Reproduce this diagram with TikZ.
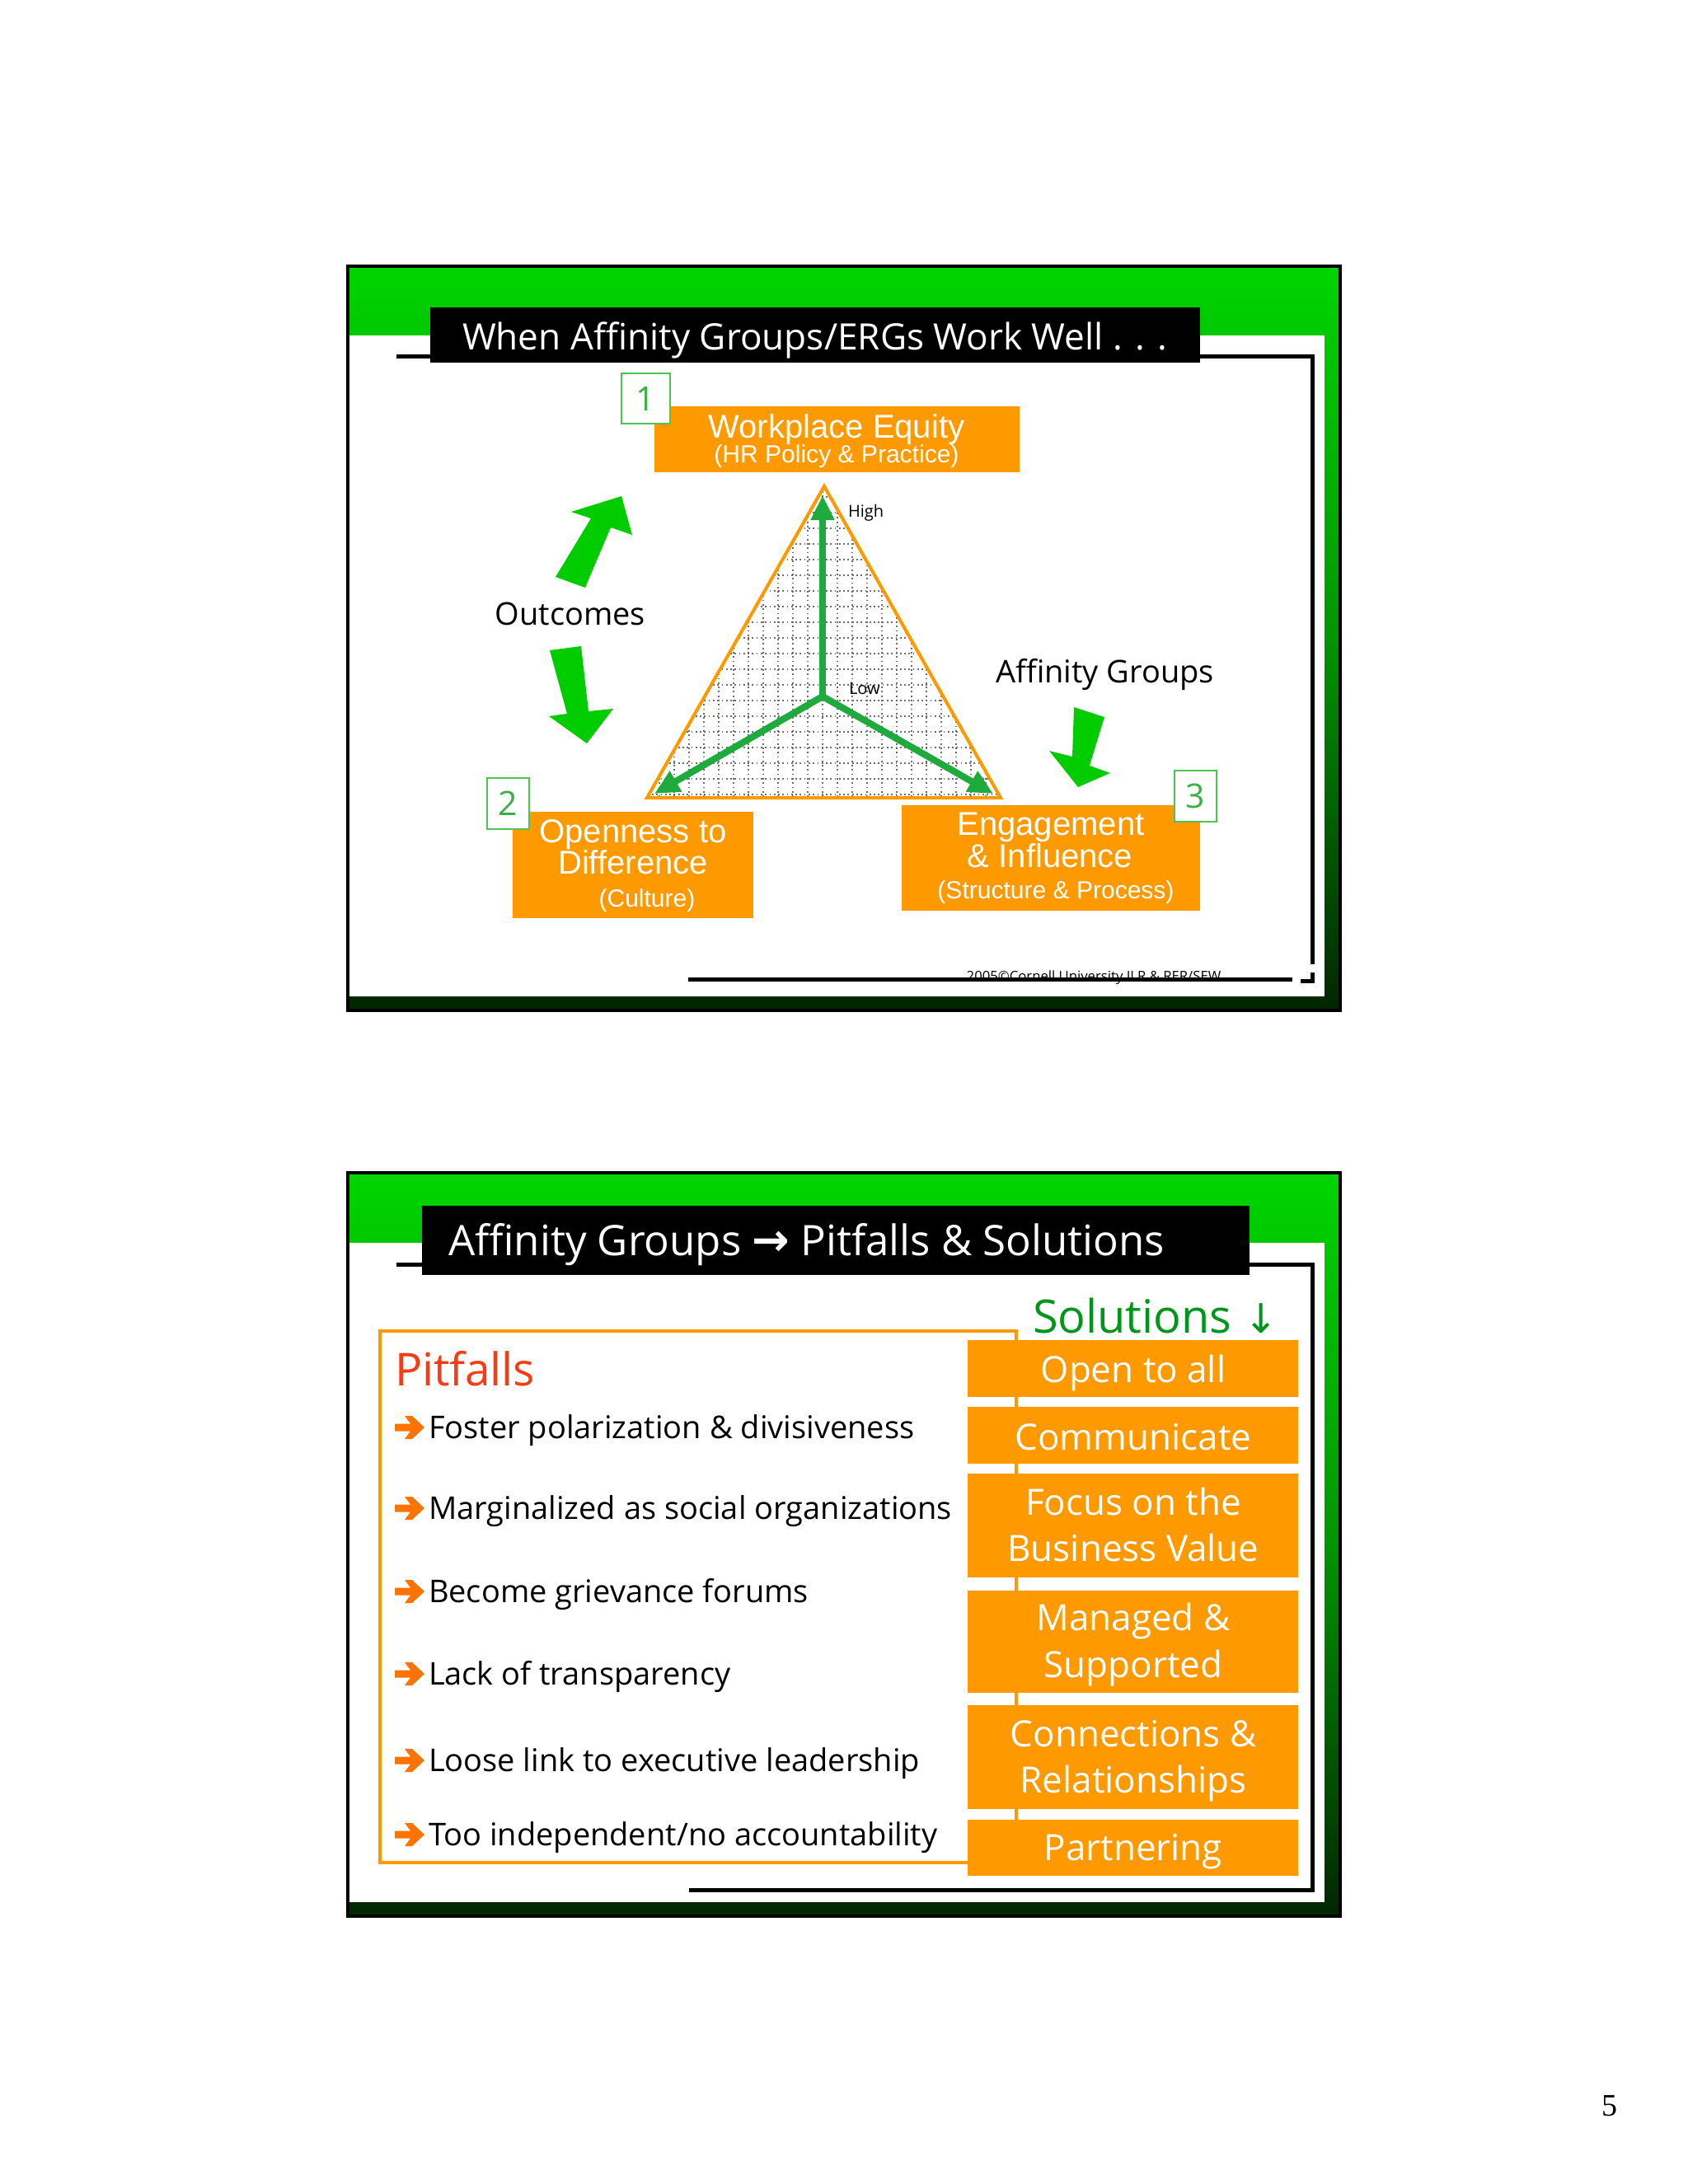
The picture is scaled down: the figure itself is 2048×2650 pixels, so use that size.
\documentclass[tikz,border=0pt]{standalone}
\usepackage{fontspec}
\setmainfont{Open Sans}
\newfontfamily\arialf{Liberation Sans}
\newfontfamily\djv{DejaVu Sans}
\newfontfamily\tnr{Liberation Serif}
\usetikzlibrary{arrows.meta}
\newcommand\fsz[1]{\fontsize{#1}{#1}\selectfont}
\definecolor{orng}{HTML}{FF9900}
\definecolor{brgreen}{RGB}{0,204,0}
\definecolor{axgreen}{RGB}{30,170,60}
\definecolor{numgreen}{RGB}{60,176,70}
\definecolor{numborder}{RGB}{80,195,80}
\definecolor{pitred}{RGB}{245,60,20}
\definecolor{solgreen}{RGB}{0,150,25}
\definecolor{bulor}{RGB}{255,115,0}
\definecolor{topgreen}{RGB}{0,212,0}
\definecolor{midgreen}{RGB}{0,150,0}
\definecolor{botgreen}{RGB}{0,38,0}
\definecolor{gridgray}{RGB}{110,110,110}
\begin{document}
\begin{tikzpicture}[x=0.01cm,y=-0.01cm,
  lbl/.style={inner sep=0pt, outer sep=0pt, anchor=base},
  lblw/.style={inner sep=0pt, outer sep=0pt, anchor=base west},
  obox/.style={fill=orng, inner sep=0pt, outer sep=0pt},
  numbox/.style={draw=numborder, fill=white, line width=0.6pt, inner sep=0pt, outer sep=0pt, text=numgreen, font=\fsz{11.6pt}},
  blockarrow/.style={fill=brgreen},
  axis/.style={draw=axgreen, line width=2.3pt, -{Triangle[length=0.3cm,width=0.27cm]}},
  frameline/.style={line width=1.42pt, black},
  gridline/.style={gridgray, line width=0.35pt, dash pattern=on 0.5pt off 1pt},
  bularrow/.pic={\fill[bulor] (0,-4.5) -- (19,-4.5) -- (12,-14) -- (21,-14) -- (36,0) -- (21,14) -- (12,14) -- (19,4.5) -- (0,4.5) -- cycle;},
  boxtxt/.style={lbl, text=white, font=\arialf\fsz{11.38pt}},
  boxsub/.style={lbl, text=white, font=\arialf\fsz{8.54pt}},
  soltxt/.style={lbl, text=white, font=\fsz{12.5pt}},
  item/.style={lblw, text=black, font=\fsz{10.81pt}}
]
\useasboundingbox (0,0) rectangle (2048,2650);
\fill[white] (0,0) rectangle (2048,2650);

% ================= SLIDE 1 =================
\fill[top color=topgreen, bottom color=botgreen, middle color=midgreen] (422,323) rectangle (1626,1226);
\fill[white] (424,407) rectangle (1607,1209);
\draw[line width=1.1pt] (422,323) rectangle (1626,1226);
\draw[frameline] (481,432) -- (1592,432) -- (1592,1170);
\draw[frameline] (1592,1180) -- (1592,1190) -- (1578,1190);
\draw[frameline] (835,1188) -- (1568,1188);

\node[fill=black, minimum width=9.34cm, minimum height=0.67cm, inner sep=0pt] (t1box) at (989,406.5) {};
\node[lblw, text=white, font=\fsz{12.55pt}] (t1) at (561,424) {When Affinity Groups/ERGs Work Well . . .};

% orange boxes
\node[obox, minimum width=4.43cm, minimum height=0.80cm] (wpe) at (1015.5,533) {};
\node[boxtxt] (wpe1) at (1015,531) {Workplace Equity};
\node[boxsub] (wpe2) at (1015,561) {(HR Policy \& Practice)};

\node[obox, minimum width=2.92cm, minimum height=1.29cm] (opn) at (768,1049.5) {};
\node[boxtxt] (opn1) at (768,1022) {Openness to};
\node[boxtxt] (opn2) at (768,1060) {Difference};
\node[boxsub] (opn3) at (785,1100) {(Culture)};

\node[obox, minimum width=3.62cm, minimum height=1.28cm] (eng) at (1275,1041) {};
\node[boxtxt] (eng1) at (1275,1013) {Engagement};
\node[boxtxt] (eng2) at (1274,1052) {\& Influence};
\node[boxsub] (eng3) at (1281,1090) {(Structure \& Process)};

\node[numbox, minimum width=0.59cm, minimum height=0.61cm] (n1) at (783.5,483.5) {1};
\node[numbox, minimum width=0.51cm, minimum height=0.62cm] (n2) at (616.5,975) {2};
\node[numbox, minimum width=0.51cm, minimum height=0.62cm] (n3) at (1450.5,966) {3};

% triangle
\coordinate (tA) at (1000,590);
\coordinate (tB) at (785,968);
\coordinate (tC) at (1214,968);
\fill[white] (tA) -- (tB) -- (tC) -- cycle;
\begin{scope}
\clip (tA) -- (tB) -- (tC) -- cycle;
\foreach \x in {782,800,...,1220} \draw[gridline] (\x,580) -- (\x,975);
\foreach \i in {0,...,20} \draw[gridline] (770,964-19*\i) -- (1230,964-19*\i);
\end{scope}
\draw[orng, line width=1.14pt, line join=miter] (tA) -- (tB) -- (tC) -- cycle;

\coordinate (ctr) at (998,845);
\coordinate (axT) at (998,601);
\coordinate (axL) at (794,963);
\coordinate (axR) at (1205,963);
\draw[axis] (ctr) -- (axT);
\draw[axis] (ctr) -- (axL);
\draw[axis] (ctr) -- (axR);
\node[lblw, font=\fsz{5.7pt}] (high) at (1029,627) {High};
\node[lblw, font=\fsz{5.7pt}] (low) at (1030,842) {Low};

% block arrows
\fill[blockarrow] (754,602) -- (767,649) -- (741,640) -- (710,713) -- (674,700) -- (717,629) -- (693,621) -- cycle;
\fill[blockarrow] (667,789) -- (705,784) -- (714,863) -- (744,860) -- (712,902) -- (666,869) -- (688,866) -- cycle;
\fill[blockarrow] (1303,858) -- (1340,870) -- (1322,929) -- (1347,938) -- (1308,955) -- (1273,911) -- (1301,918) -- cycle;

\node[lbl, font=\fsz{10.81pt}] (outc) at (692,758) {Outcomes};
\node[lblw, font=\fsz{10.81pt}] (affg) at (1208,828) {Affinity Groups};

\node[lbl, font=\fsz{4.75pt}] (foot) at (1327,1190) {2005©Cornell University ILR \& RER/SEW};

% ================= SLIDE 2 =================
\fill[top color=topgreen, bottom color=botgreen, middle color=midgreen] (422,1423) rectangle (1626,2325);
\fill[white] (424,1508) rectangle (1607,2308);
\draw[line width=1.1pt] (422,1423) rectangle (1626,2325);
\draw[frameline] (481,1534) -- (1592,1534) -- (1592,2293) -- (836,2293);

\node[fill=black, minimum width=10.04cm, minimum height=0.84cm, inner sep=0pt] (t2box) at (1014,1505) {};
\node[lblw, text=white, font=\fsz{14.5pt}] (t2) at (544,1523) {Affinity Groups {\djv\bfseries\fsz{15.5pt}→} Pitfalls \& Solutions};

\node[draw=orng, line width=1.14pt, minimum width=7.72cm, minimum height=6.45cm, inner sep=0pt] (pitbox) at (847,1937.5) {};
\node[lblw, text=pitred, font=\fsz{15.65pt}] (pith) at (479,1681) {Pitfalls};

\node[lblw, text=solgreen, font=\fsz{15.9pt}] (solh) at (1253,1617) {Solutions {\djv\fsz{14pt}↓}};

\pic at (479,1732) {bularrow};
\node[item] (p1) at (520,1745) {Foster polarization \& divisiveness};
\pic at (479,1830) {bularrow};
\node[item] (p2) at (520,1843) {Marginalized as social organizations};
\pic at (479,1931) {bularrow};
\node[item] (p3) at (520,1944) {Become grievance forums};
\pic at (479,2031) {bularrow};
\node[item] (p4) at (520,2044) {Lack of transparency};
\pic at (479,2136) {bularrow};
\node[item] (p5) at (520,2149) {Loose link to executive leadership};
\pic at (479,2226) {bularrow};
\node[item] (p6) at (520,2239) {Too independent/no accountability};

\node[obox, minimum width=4.01cm, minimum height=0.69cm] (s1) at (1374.5,1660.5) {};
\node[obox, minimum width=4.01cm, minimum height=0.69cm] (s2) at (1374.5,1741.5) {};
\node[obox, minimum width=4.01cm, minimum height=1.26cm] (s3) at (1374.5,1851) {};
\node[obox, minimum width=4.01cm, minimum height=1.24cm] (s4) at (1374.5,1992) {};
\node[obox, minimum width=4.01cm, minimum height=1.26cm] (s5) at (1374.5,2132) {};
\node[obox, minimum width=4.01cm, minimum height=0.68cm] (s6) at (1374.5,2242) {};

\node[soltxt] (s1t) at (1375,1677) {Open to all};
\node[soltxt] (s2t) at (1375,1759) {Communicate};
\node[soltxt] (s3a) at (1375,1838) {Focus on the};
\node[soltxt] (s3b) at (1375,1894) {Business Value};
\node[soltxt] (s4a) at (1375,1978) {Managed \&};
\node[soltxt] (s4b) at (1375,2035) {Supported};
\node[soltxt] (s5a) at (1375,2119) {Connections \&};
\node[soltxt] (s5b) at (1375,2175) {Relationships};
\node[soltxt] (s6t) at (1375,2257) {Partnering};

\node[lbl, font=\tnr\fsz{10.8pt}] (pg) at (1953,2567) {5};
\end{tikzpicture}
\end{document}
